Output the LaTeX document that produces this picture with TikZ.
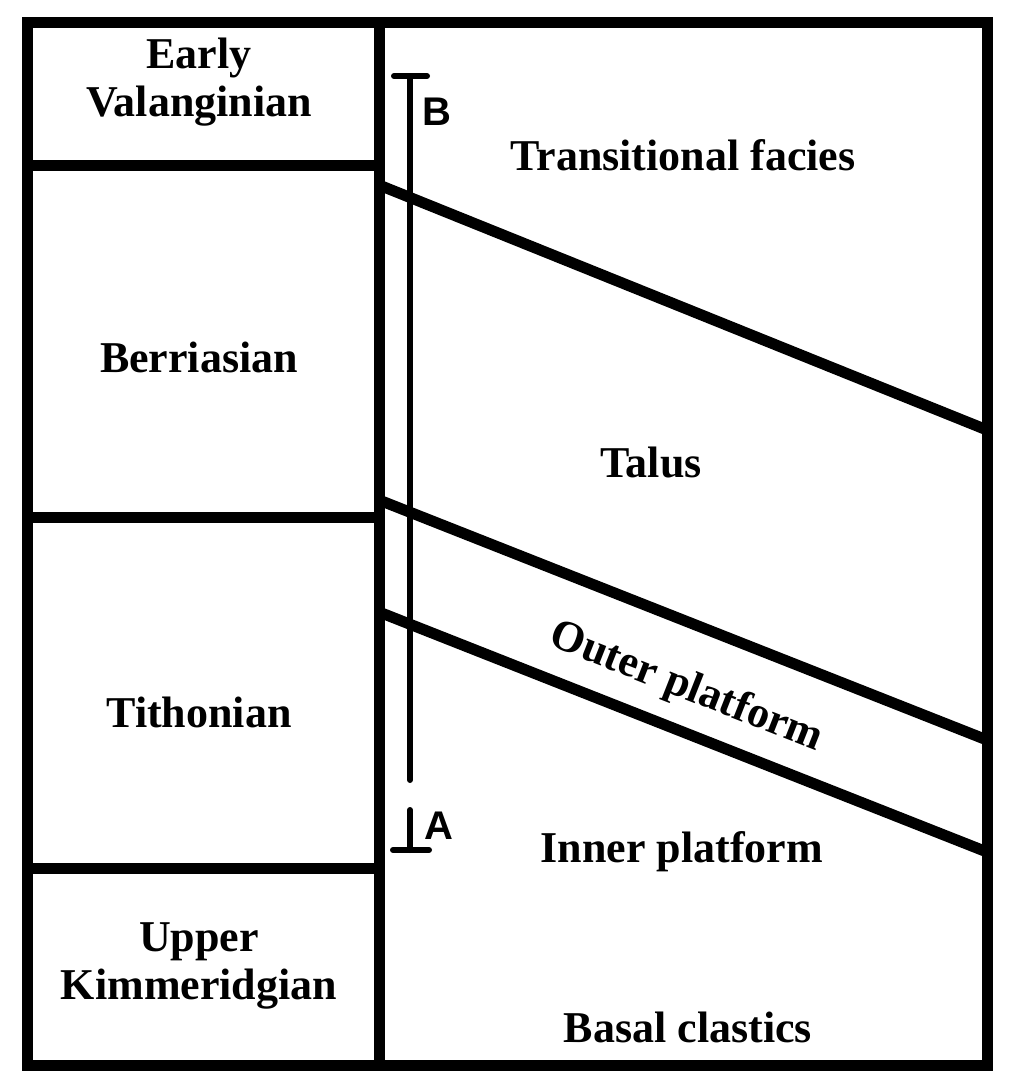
\documentclass[tikz,border=0pt]{standalone}
\usepackage{fontspec}
\setmainfont{Liberation Serif}
\newfontfamily\lbl{Liberation Sans}
\begin{document}
\begin{tikzpicture}[x=1pt,y=-1pt,
  frame/.style={line width=11pt},
  bed/.style={line width=11pt},
  bar/.style={line width=6pt,line cap=round},
  txt/.style={font=\fontsize{44}{48}\selectfont\bfseries,align=center},
  ltr/.style={font=\fontsize{40}{40}\selectfont\lbl\bfseries}]
\useasboundingbox (0,0) rectangle (1016,1092);
\coordinate (tl) at (27,22); \coordinate (br) at (987,1065);
\draw[frame] (tl) rectangle (br);
\draw[frame] (379,22) -- (379,1065);
\draw[frame] (27,165) -- (379,165);
\draw[frame] (27,517) -- (379,517);
\draw[frame] (27,868) -- (379,868);
\draw[bed] (379,185) -- (987,430);
\draw[bed] (379,500) -- (987,740);
\draw[bed] (379,612) -- (987,852);
\coordinate (b1) at (410,76); \coordinate (b2) at (410,780);
\coordinate (a1) at (410,810); \coordinate (a2) at (410,850);
\draw[bar] (b1) -- (b2);
\draw[bar] (a1) -- (a2);
\draw[bar] (394,76) -- (427,76);
\draw[bar] (393,850) -- (429,850);
\node[ltr] (B) at (437,112) {B};
\node[ltr] (A) at (439,826) {A};
\node[txt] (ev) at (199,82) {Early\\Valanginian};
\node[txt] (be) at (199,357) {Berriasian};
\node[txt] (ti) at (199,712) {Tithonian};
\node[txt] (uk) at (199,966) {Upper\\Kimmeridgian};
\node[txt] (tf) at (683,155) {Transitional facies};
\node[txt] (ta) at (651,462) {Talus};
\node[txt,rotate=-21.5] (op) at (686,688) {Outer platform};
\node[txt] (ip) at (682,852) {Inner platform};
\node[txt] (bc) at (688,1027) {Basal clastics};
\end{tikzpicture}
\end{document}
